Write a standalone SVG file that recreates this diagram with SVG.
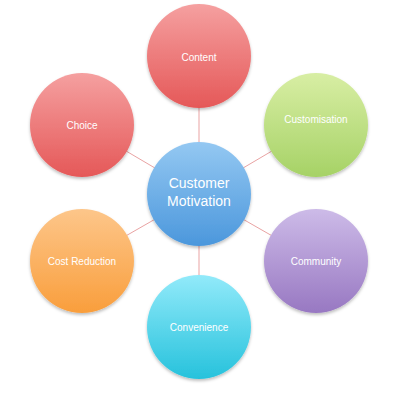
<svg xmlns="http://www.w3.org/2000/svg" width="400" height="400" viewBox="0 0 400 400">
<defs>
<linearGradient id="gRed" x1="0" y1="0" x2="0" y2="1"><stop offset="0" stop-color="#f5a0a0"/><stop offset="1" stop-color="#e55858"/></linearGradient>
<linearGradient id="gGreen" x1="0" y1="0" x2="0" y2="1"><stop offset="0" stop-color="#d8eea4"/><stop offset="1" stop-color="#a6d266"/></linearGradient>
<linearGradient id="gPurple" x1="0" y1="0" x2="0" y2="1"><stop offset="0" stop-color="#cdbbe8"/><stop offset="1" stop-color="#9878c2"/></linearGradient>
<linearGradient id="gCyan" x1="0" y1="0" x2="0" y2="1"><stop offset="0" stop-color="#92eafa"/><stop offset="1" stop-color="#26c2dc"/></linearGradient>
<linearGradient id="gOrange" x1="0" y1="0" x2="0" y2="1"><stop offset="0" stop-color="#fdc68a"/><stop offset="1" stop-color="#f99e3c"/></linearGradient>
<linearGradient id="gBlue" x1="0" y1="0" x2="0" y2="1"><stop offset="0" stop-color="#94c8f2"/><stop offset="1" stop-color="#4b97dc"/></linearGradient>
<filter id="sh" x="-20%" y="-20%" width="140%" height="150%"><feDropShadow dx="0" dy="2" stdDeviation="1.5" flood-color="#000" flood-opacity="0.25"/></filter>
</defs>
<style>
.n{filter:url(#sh)}
.t{font-family:"Liberation Sans",Arial,sans-serif;fill:#fff;text-anchor:middle;font-size:10px}
.tc{font-size:14px}
.c line{stroke:#e9a3a3;stroke-width:1}
</style>
<rect width="400" height="400" fill="#fff"/>
<g class="c" id="connectors">
<line x1="199" y1="194" x2="199" y2="56"/>
<line x1="199" y1="194" x2="316" y2="125"/>
<line x1="199" y1="194" x2="316" y2="261"/>
<line x1="199" y1="194" x2="199" y2="327"/>
<line x1="199" y1="194" x2="82" y2="261"/>
<line x1="199" y1="194" x2="82" y2="125"/>
</g>
<g id="content"><circle class="n" cx="199" cy="56" r="52" fill="url(#gRed)"/><text class="t" x="199" y="61">Content</text></g>
<g id="customisation"><circle class="n" cx="316" cy="125" r="52" fill="url(#gGreen)"/><text class="t" x="316" y="123">Customisation</text></g>
<g id="community"><circle class="n" cx="316" cy="261" r="52" fill="url(#gPurple)"/><text class="t" x="316" y="265">Community</text></g>
<g id="convenience"><circle class="n" cx="199" cy="327" r="52" fill="url(#gCyan)"/><text class="t" x="199" y="331">Convenience</text></g>
<g id="cost-reduction"><circle class="n" cx="82" cy="261" r="52" fill="url(#gOrange)"/><text class="t" x="82" y="265">Cost Reduction</text></g>
<g id="choice"><circle class="n" cx="82" cy="125" r="52" fill="url(#gRed)"/><text class="t" x="82" y="129">Choice</text></g>
<g id="customer-motivation"><circle class="n" cx="199" cy="194" r="52" fill="url(#gBlue)"/><text class="t tc" x="199" y="188">Customer</text><text class="t tc" x="199" y="206">Motivation</text></g>
</svg>
